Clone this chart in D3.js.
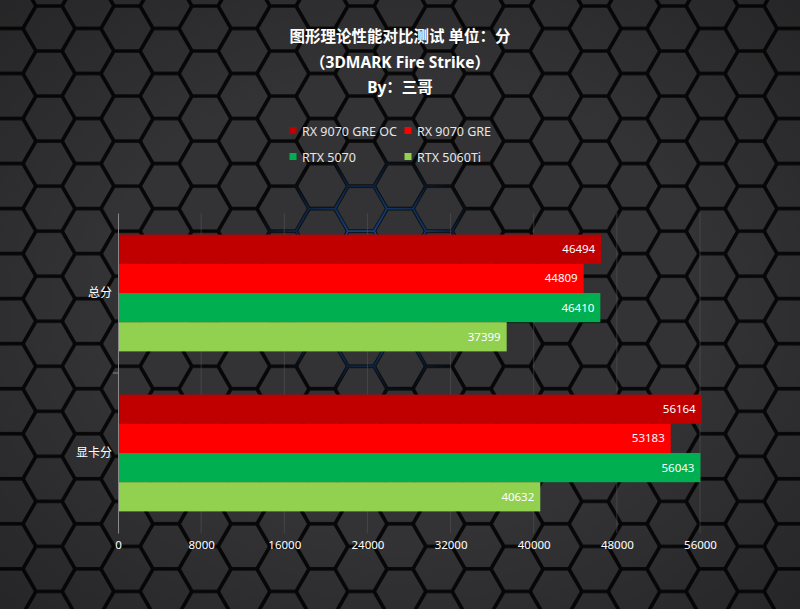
<!DOCTYPE html>
<html><head><meta charset="utf-8">
<script src="https://cdn.jsdelivr.net/npm/d3@7/dist/d3.min.js"></script>
<style>html,body{margin:0;padding:0;background:#1a1a1b;}svg{display:block;}</style>
</head><body>
<script>
const categories = ["总分", "显卡分"];
const seriesNames = ["RX 9070 GRE OC", "RX 9070 GRE", "RTX 5070", "RTX 5060Ti"];
const seriesColors = ["#c00000", "#ff0000", "#00b050", "#92d050"];
const rx9070greoc = [46494, 56164];
const rx9070gre = [44809, 53183];
const rtx5070 = [46410, 56043];
const rtx5060ti = [37399, 40632];
const xTicks = [0, 8000, 16000, 24000, 32000, 40000, 48000, 56000];
const titleLines = ["图形理论性能对比测试 单位：分", "（3DMARK Fire Strike）", "By：三哥"];

const seriesValues = [rx9070greoc, rx9070gre, rtx5070, rtx5060ti];
const W = 800, H = 609;
const font = "'Segoe UI','Noto Sans','Noto Sans CJK SC',sans-serif";

const svg = d3.select("body").append("svg").attr("width", W).attr("height", H);
const defs = svg.append("defs");

// hexagon background pattern (flat-topped)
const R = 26, h = R * Math.sqrt(3) / 2;
function hexPath(cx, cy) {
  const pts = d3.range(6).map(i => {
    const a = Math.PI / 3 * i;
    return [cx + R * Math.cos(a), cy + R * Math.sin(a)];
  });
  return "M" + pts.map(p => p.join(",")).join("L") + "Z";
}
function makePattern(id, stroke, fill, sw) {
  const p = defs.append("pattern").attr("id", id).attr("patternUnits", "userSpaceOnUse")
    .attr("width", 3 * R).attr("height", 2 * h).attr("x", 10).attr("y", 6);
  if (fill) p.append("rect").attr("width", 3 * R).attr("height", 2 * h).attr("fill", "#000");
  const centers = [[0, 0], [3 * R, 0], [0, 2 * h], [3 * R, 2 * h], [1.5 * R, h]];
  centers.forEach(c => {
    p.append("path").attr("d", hexPath(c[0], c[1]))
      .attr("fill", fill || "none").attr("stroke", stroke).attr("stroke-width", sw);
  });
}
makePattern("hex", "#070707", "#333335", 3.5);
makePattern("hexblue", "#1d6fd8", null, 1.8);

const rg = defs.append("radialGradient").attr("id", "glow").attr("gradientUnits", "userSpaceOnUse")
  .attr("cx", 370).attr("cy", 275).attr("r", 125);
rg.append("stop").attr("offset", "0%").attr("stop-color", "#fff").attr("stop-opacity", 0.75);
rg.append("stop").attr("offset", "55%").attr("stop-color", "#fff").attr("stop-opacity", 0.45);
rg.append("stop").attr("offset", "100%").attr("stop-color", "#fff").attr("stop-opacity", 0);
defs.append("mask").attr("id", "glowMask").append("rect")
  .attr("width", W).attr("height", H).attr("fill", "url(#glow)");

const vg = defs.append("radialGradient").attr("id", "vign").attr("cx", "50%").attr("cy", "50%").attr("r", "75%");
vg.append("stop").attr("offset", "50%").attr("stop-color", "#000").attr("stop-opacity", 0);
vg.append("stop").attr("offset", "100%").attr("stop-color", "#000").attr("stop-opacity", 0.3);

svg.append("rect").attr("width", W).attr("height", H).attr("fill", "url(#hex)");
svg.append("rect").attr("width", W).attr("height", H).attr("fill", "url(#hexblue)").attr("mask", "url(#glowMask)");
svg.append("rect").attr("width", W).attr("height", H).attr("fill", "url(#vign)");

// titles
svg.append("g").selectAll("text").data(titleLines).join("text")
  .attr("x", 400).attr("y", (d, i) => 42 + i * 25.5)
  .attr("text-anchor", "middle").attr("fill", "#ffffff")
  .attr("font-family", font).attr("font-weight", "bold").attr("font-size", 15.5)
  .text(d => d);

// legend
const legend = svg.append("g");
seriesNames.forEach((name, i) => {
  const lx = 293 + (i % 2) * 115, ly = 131 + Math.floor(i / 2) * 26;
  legend.append("rect").attr("x", lx - 3.5).attr("y", ly - 4).attr("width", 7).attr("height", 7).attr("fill", seriesColors[i]);
  legend.append("text").attr("x", lx + 9).attr("y", ly + 4.5)
    .attr("fill", "#e6e6e6").attr("font-family", font).attr("font-size", 12.5).text(name);
});

// scales
const x = d3.scaleLinear().domain([0, 56000]).range([118, 700]);
const y = d3.scaleBand().domain(categories).range([213, 533]).paddingInner(0.27).paddingOuter(0.135);
const ys = d3.scaleBand().domain(d3.range(seriesNames.length)).range([0, y.bandwidth()]);

// grid
svg.append("g").selectAll("line").data(xTicks.slice(1)).join("line")
  .attr("x1", d => x(d)).attr("x2", d => x(d)).attr("y1", 213).attr("y2", 533)
  .attr("stroke", "#5a5a5c").attr("stroke-opacity", 0.5).attr("stroke-width", 1);

// bars
const groups = svg.append("g").selectAll("g").data(categories).join("g")
  .attr("transform", c => `translate(0,${y(c)})`);
groups.each(function(c, ci) {
  const g = d3.select(this);
  seriesValues.forEach((vals, si) => {
    g.append("rect").attr("x", x(0)).attr("y", ys(si))
      .attr("width", x(vals[ci]) - x(0)).attr("height", ys.bandwidth())
      .attr("fill", seriesColors[si]);
    g.append("text").attr("x", x(vals[ci]) - 6).attr("y", ys(si) + ys.bandwidth() / 2 + 4)
      .attr("text-anchor", "end").attr("fill", "#ffffff")
      .attr("font-family", font).attr("font-size", 11.5).text(vals[ci]);
  });
});

// y axis
const yAxis = svg.append("g").attr("transform", "translate(118,0)")
  .call(d3.axisLeft(y).tickSize(0).tickPadding(6));
yAxis.select(".domain").attr("stroke", "#8a8a8a");
yAxis.selectAll("text").attr("fill", "#ffffff").attr("font-family", font).attr("font-size", 12);
yAxis.append("line").attr("x1", -5).attr("x2", 0).attr("y1", 373).attr("y2", 373).attr("stroke", "#8a8a8a");

// x axis
const xAxis = svg.append("g").attr("transform", "translate(0,533)")
  .call(d3.axisBottom(x).tickValues(xTicks).tickSize(0).tickPadding(8).tickFormat(d3.format("d")));
xAxis.select(".domain").remove();
xAxis.selectAll("text").attr("fill", "#ffffff").attr("font-family", font).attr("font-size", 11.5);
</script>
</body></html>
